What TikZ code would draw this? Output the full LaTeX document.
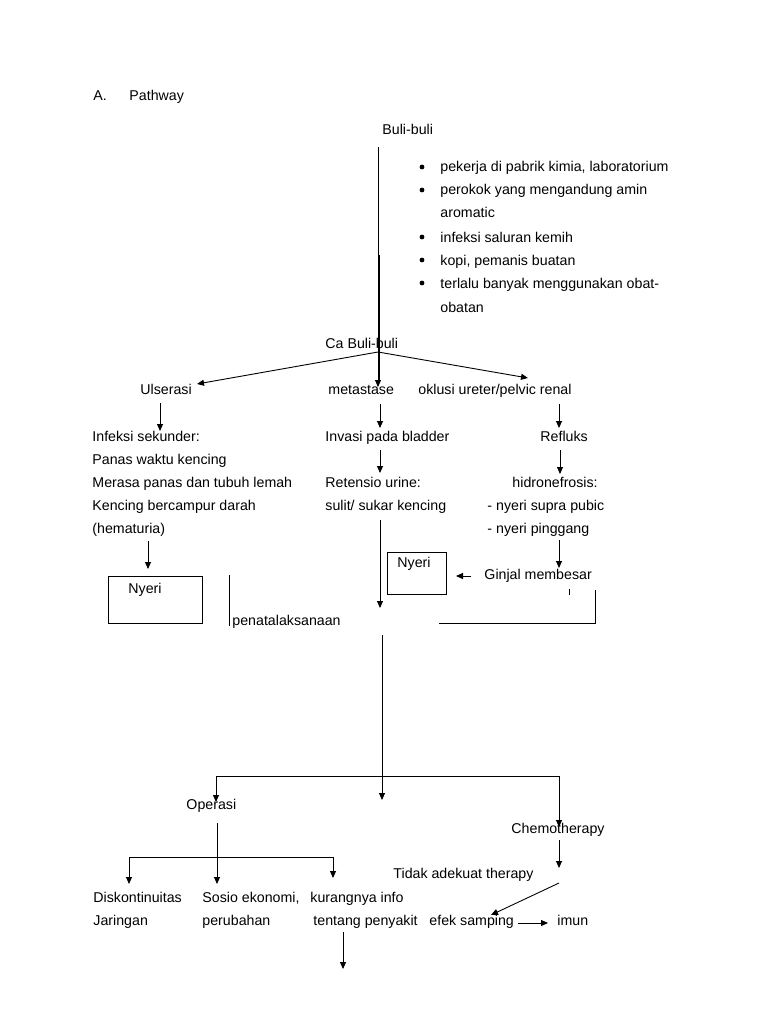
\documentclass[tikz,border=0pt]{standalone}
\usepackage{fontspec}
\setmainfont{Liberation Sans}
\usetikzlibrary{arrows.meta}
\tikzstyle{lbl}=[anchor=base west, inner sep=0pt, font=\fontsize{14.2}{16}\selectfont]
\tikzstyle{box}=[draw, inner sep=0pt]
\tikzstyle{dot}=[circle, fill, inner sep=0pt, minimum size=4.8pt]
\tikzstyle{both}=[{Triangle[length=7pt,width=6pt]}-{Triangle[length=7pt,width=6pt]}]
\newcommand{\lbl}{\node[lbl]}

\begin{document}
\begin{tikzpicture}[x=1pt, y=-1pt, line width=0.9pt
  ,every edge/.style={draw, -{Triangle[length=7pt,width=6pt]}}
]
\useasboundingbox[fill=white] (0,0) rectangle (768,1024);
% judul
\lbl (hA) at (93,101) {A.};
\lbl (hpath) at (129,101) {Pathway};
\lbl (buli) at (382,135) {Buli-buli};
% faktor resiko
\foreach \y in {167,190,237,260,283} \node[dot] (dot\y) at (422,\y) {};
\lbl (f1) at (440,172) {pekerja di pabrik kimia, laboratorium};
\lbl (f2) at (440,195) {perokok yang mengandung amin};
\lbl (f2b) at (440,218) {aromatic};
\lbl (f3) at (440,242) {infeksi saluran kemih};
\lbl (f4) at (440,265) {kopi, pemanis buatan};
\lbl (f5) at (440,288) {terlalu banyak menggunakan obat-};
\lbl (f5b) at (440,312) {obatan};
\lbl (cabuli) at (325,348) {Ca Buli-buli};
\lbl (ulserasi) at (140,394) {Ulserasi};
\lbl (metastase) at (328,394) {metastase};
\lbl (oklusi) at (418,394) {oklusi ureter/pelvic renal};
% kolom kiri
\lbl (inf1) at (92,441) {Infeksi sekunder:};
\lbl (inf2) at (92,464) {Panas waktu kencing};
\lbl (inf3) at (92,487) {Merasa panas dan tubuh lemah};
\lbl (inf4) at (92,510) {Kencing bercampur darah};
\lbl (inf5) at (92,533) {(hematuria)};
% kolom tengah
\lbl (invasi) at (325,441) {Invasi pada bladder};
\lbl (retensi) at (325,487) {Retensio urine:};
\lbl (sulit) at (325,510) {sulit/ sukar kencing};
% kolom kanan
\lbl (refluks) at (540,441) {Refluks};
\lbl (hidro) at (512,487) {hidronefrosis:};
\lbl (supra) at (487,510) {- nyeri supra pubic};
\lbl (pinggang) at (487,533) {- nyeri pinggang};
\lbl (ginjal) at (484,579) {Ginjal membesar};
% kotak nyeri
\node[box, minimum width=94, minimum height=47] (boxA) at (155,599.5) {};
\node[box, minimum width=59, minimum height=42] (boxB) at (416.5,573) {};
\lbl (nyeriA) at (128,593) {Nyeri};
\lbl (nyeriB) at (397,567) {Nyeri};
\lbl (penata) at (232,625) {penatalaksanaan};
% terapi
\lbl (operasi) at (186,809) {Operasi};
\lbl (chemo) at (511,833) {Chemotherapy};
\lbl (tidak) at (393,878) {Tidak adekuat therapy};
\lbl (disk) at (93,902) {Diskontinuitas};
\lbl (jar) at (93,925) {Jaringan};
\lbl (sosio) at (202,902) {Sosio ekonomi,};
\lbl (perub) at (202,925) {perubahan};
\lbl (kurang) at (310,902) {kurangnya info};
\lbl (tentang) at (313,925) {tentang penyakit};
\lbl (efek) at (429,925) {efek samping};
\lbl (imun) at (557,925) {imun};

% ujung panah
\coordinate (st0) at (378,147);
\coordinate (st1) at (378,387);
\coordinate (st2) at (379.6,255);
\coordinate (st3) at (379.6,381);
\coordinate (br) at (378,352);
\coordinate (ulA) at (197,384);
\coordinate (okA) at (528,378);
\coordinate (u1) at (160,403);
\coordinate (u2) at (160,431);
\coordinate (m1) at (380,404);
\coordinate (m2) at (380,428);
\coordinate (r1) at (559,404);
\coordinate (r2) at (559,428);
\coordinate (m3) at (380,450);
\coordinate (m4) at (380,473);
\coordinate (r3) at (560,450);
\coordinate (r4) at (560,474);
\coordinate (l1) at (148,541);
\coordinate (l2) at (148,569);
\coordinate (r5) at (559,540);
\coordinate (r6) at (559,568);
\coordinate (g1) at (471,576);
\coordinate (g2) at (456,576);
\coordinate (m5) at (380,520);
\coordinate (m6) at (380,608);
\coordinate (p1) at (229,575);
\coordinate (p2) at (229,626);
\coordinate (t1) at (569,589);
\coordinate (t2) at (569,595);
\coordinate (q1) at (595,590);
\coordinate (q2) at (595,623);
\coordinate (q3) at (439,623);
\coordinate (c1) at (382,635);
\coordinate (c2) at (382,800);
\coordinate (opA) at (216,802);
\coordinate (hz) at (559,776);
\coordinate (chA) at (559,827);
\coordinate (o1) at (217,823);
\coordinate (o2) at (217,884);
\coordinate (d1) at (129,884);
\coordinate (d2) at (333,857);
\coordinate (d3) at (333,878);
\coordinate (k1) at (559,840);
\coordinate (k2) at (559,868);
\coordinate (k3) at (559,883);
\coordinate (k4) at (491,915);
\coordinate (e1) at (518,923);
\coordinate (e2) at (548,923);
\coordinate (n1) at (343,932);
\coordinate (n2) at (343,969);

\path
(st0) edge (st1)
(br) edge (ulA) edge (okA)
(u1) edge (u2)  (m1) edge (m2)  (r1) edge (r2)
(m3) edge (m4)  (r3) edge (r4)
(l1) edge (l2)  (r5) edge (r6)  (g1) edge (g2)
(m5) edge (m6)  (c1) edge (c2)  (o1) edge (o2)
(k1) edge (k2)  (k3) edge (k4)  (e1) edge (e2)
(n1) edge (n2)
;
\draw (st2) -- (st3);
\draw (p1) -- (p2);
\draw (t1) -- (t2);
\draw (q1) -- (q2) -- (q3);
\draw[both] (opA) |- (hz) -- (chA);
\draw[both] (d1) |- (d2) -- (d3);
\end{tikzpicture}
\end{document}
